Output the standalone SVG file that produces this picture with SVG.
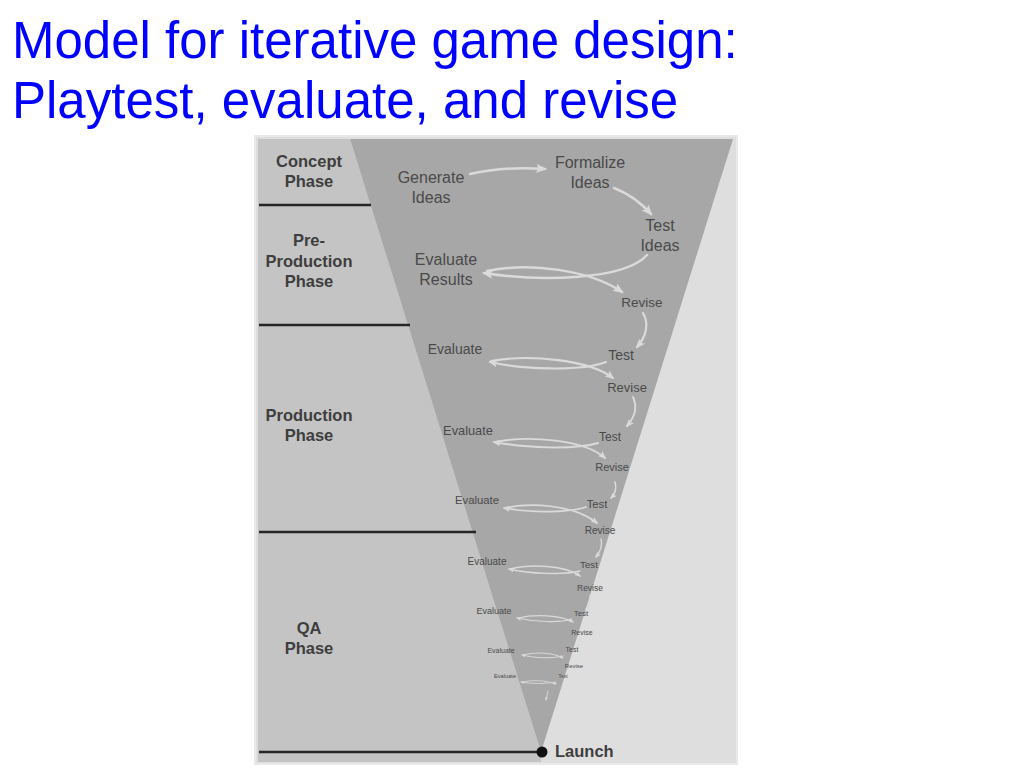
<svg xmlns="http://www.w3.org/2000/svg" width="1024" height="768" viewBox="0 0 1024 768">
  <style>
    .title { font-family: "Liberation Sans", Arial, sans-serif; font-size: 51px; fill: #0000ff; }
    .phase { font-family: "Liberation Sans", Arial, sans-serif; font-weight: bold; font-size: 16.5px; fill: #3e3e3e; text-anchor: middle; }
    .lbl { font-family: "Liberation Sans", Arial, sans-serif; fill: #4a4a4a; text-anchor: middle; }
    .sep { stroke: #262626; stroke-width: 2.5; fill: none; }
    .arr { fill: none; stroke: #dadada; stroke-linecap: round; marker-end: url(#head); }
  </style>
  <defs>
    <marker id="head" viewBox="0 0 10 8" refX="8" refY="4" markerWidth="4.4" markerHeight="3.5" orient="auto" markerUnits="strokeWidth">
      <path d="M0,0 L10,4 L0,8 L2,4 z" fill="#dadada"/>
    </marker>
  </defs>
  <rect width="1024" height="768" fill="#ffffff"/>

  <g id="title">
    <text class="title" x="12" y="58">Model for iterative game design:</text>
    <text class="title" x="12" y="118">Playtest, evaluate, and revise</text>
  </g>

  <g id="background">
    <rect x="255" y="136" width="482" height="628" fill="#dedede" stroke="#e9e9e9" stroke-width="2"/>
    <polygon points="258,139 350,139 541,752 541,762 258,762" fill="#c4c4c4"/>
    <polygon id="funnel" points="350,139 733,139 541,752" fill="#a7a7a7"/>
  </g>

  <g id="separators">
    <line class="sep" x1="259" y1="205" x2="371" y2="205"/>
    <line class="sep" x1="259" y1="325" x2="410" y2="325"/>
    <line class="sep" x1="259" y1="532" x2="476" y2="532"/>
    <line class="sep" x1="259" y1="752" x2="541" y2="752"/>
  </g>

  <g id="phase-concept">
    <text class="phase" x="309" y="167">Concept</text>
    <text class="phase" x="309" y="187">Phase</text>
  </g>
  <g id="phase-preproduction">
    <text class="phase" x="309" y="246">Pre-</text>
    <text class="phase" x="309" y="267">Production</text>
    <text class="phase" x="309" y="287">Phase</text>
  </g>
  <g id="phase-production">
    <text class="phase" x="309" y="421">Production</text>
    <text class="phase" x="309" y="441">Phase</text>
  </g>
  <g id="phase-qa">
    <text class="phase" x="309" y="634">QA</text>
    <text class="phase" x="309" y="654">Phase</text>
  </g>
  <g id="launch">
    <circle cx="542" cy="752" r="5.5" fill="#111111"/>
    <text class="phase" x="555" y="757" style="text-anchor:start">Launch</text>
  </g>

  <g id="node-generate">
    <text class="lbl" x="431" y="183" font-size="16">Generate</text>
    <text class="lbl" x="431" y="203" font-size="16">Ideas</text>
  </g>
  <g id="node-formalize">
    <text class="lbl" x="590" y="168" font-size="16">Formalize</text>
    <text class="lbl" x="590" y="188" font-size="16">Ideas</text>
  </g>
  <g id="node-test-ideas">
    <text class="lbl" x="660" y="231" font-size="16">Test</text>
    <text class="lbl" x="660" y="251" font-size="16">Ideas</text>
  </g>
  <g id="node-evaluate-results">
    <text class="lbl" x="446" y="265" font-size="16">Evaluate</text>
    <text class="lbl" x="446" y="285" font-size="16">Results</text>
  </g>
  <g id="node-revise-1"><text class="lbl" x="642" y="307" font-size="13.5">Revise</text></g>

  <g id="node-evaluate-2"><text class="lbl" x="455" y="354" font-size="14">Evaluate</text></g>
  <g id="node-test-2"><text class="lbl" x="621" y="360" font-size="14">Test</text></g>
  <g id="node-revise-2"><text class="lbl" x="627" y="392" font-size="13">Revise</text></g>

  <g id="node-evaluate-3"><text class="lbl" x="468" y="435" font-size="12.8">Evaluate</text></g>
  <g id="node-test-3"><text class="lbl" x="610" y="441" font-size="12">Test</text></g>
  <g id="node-revise-3"><text class="lbl" x="612" y="471" font-size="11">Revise</text></g>

  <g id="node-evaluate-4"><text class="lbl" x="477" y="504" font-size="11.3">Evaluate</text></g>
  <g id="node-test-4"><text class="lbl" x="597" y="508" font-size="11.3">Test</text></g>
  <g id="node-revise-4"><text class="lbl" x="600" y="534" font-size="10">Revise</text></g>

  <g id="node-evaluate-5"><text class="lbl" x="487" y="565" font-size="10">Evaluate</text></g>
  <g id="node-test-5"><text class="lbl" x="589" y="568" font-size="9.8">Test</text></g>
  <g id="node-revise-5"><text class="lbl" x="590" y="591" font-size="8.5">Revise</text></g>

  <g id="node-evaluate-6"><text class="lbl" x="494" y="614" font-size="9">Evaluate</text></g>
  <g id="node-test-6"><text class="lbl" x="581" y="616" font-size="8">Test</text></g>
  <g id="node-revise-6"><text class="lbl" x="582" y="635" font-size="7">Revise</text></g>

  <g id="node-evaluate-7"><text class="lbl" x="501" y="653" font-size="7">Evaluate</text></g>
  <g id="node-test-7"><text class="lbl" x="572" y="652" font-size="7">Test</text></g>
  <g id="node-revise-7"><text class="lbl" x="574" y="668" font-size="6">Revise</text></g>

  <g id="node-evaluate-8"><text class="lbl" x="505" y="678" font-size="5.7">Evaluate</text></g>
  <g id="node-test-8"><text class="lbl" x="563" y="678" font-size="5">Test</text></g>

  <g id="connectors">
    <path class="arr" stroke-width="2.5" d="M470,174 Q505,166 545,169"/>
    <path class="arr" stroke-width="2.5" d="M614,188 Q635,196 651,214"/>
    <path class="arr" stroke-width="2.5" d="M647,255 C625,280 540,282 484,273"/>
    <path class="arr" stroke-width="2.5" d="M487,271 C530,262 590,270 622,292"/>
    <path class="arr" stroke-width="2.2" d="M643,313 C650,325 645,338 637,347"/>

    <path class="arr" stroke-width="2.1" d="M606,362 C580,372 520,369 490,362"/>
    <path class="arr" stroke-width="2.1" d="M491,361 C530,354 590,360 613,378"/>
    <path class="arr" stroke-width="1.9" d="M633,397 C638,408 634,418 627,426"/>

    <path class="arr" stroke-width="1.9" d="M598,443 C575,450 525,448 494,442"/>
    <path class="arr" stroke-width="1.9" d="M495,442 C530,435 585,440 605,458"/>
    <path class="arr" stroke-width="1.6" d="M615,482 C617,489 615,494 611,498"/>

    <path class="arr" stroke-width="1.7" d="M586,507 C565,514 525,512 504,508"/>
    <path class="arr" stroke-width="1.7" d="M505,508 C530,502 575,505 597,523"/>
    <path class="arr" stroke-width="1.4" d="M601,539 C603,546 600,552 596,557"/>

    <path class="arr" stroke-width="1.4" d="M580,571 C565,575 530,574 509,569"/>
    <path class="arr" stroke-width="1.4" d="M510,569 C530,564 565,565 580,576"/>
    <path class="arr" stroke-width="1.2" d="M590,595 C591,601 589,606 586,609"/>

    <path class="arr" stroke-width="1.2" d="M572,619 C560,623 535,622 517,618"/>
    <path class="arr" stroke-width="1.2" d="M518,618 C535,614 560,615 573,622"/>
    <path class="arr" stroke-width="1" d="M580,638 C581,642 579,645 577,647"/>

    <path class="arr" stroke-width="1" d="M563,656 C550,659 535,658 522,655"/>
    <path class="arr" stroke-width="1" d="M523,655 C535,652 552,652 563,658"/>

    <path class="arr" stroke-width="0.9" d="M556,682 C545,684 532,684 521,682"/>
    <path class="arr" stroke-width="0.9" d="M522,682 C532,680 545,680 556,684"/>
    <path class="arr" stroke-width="0.9" d="M548,691 L546,700"/>
  </g>
</svg>
